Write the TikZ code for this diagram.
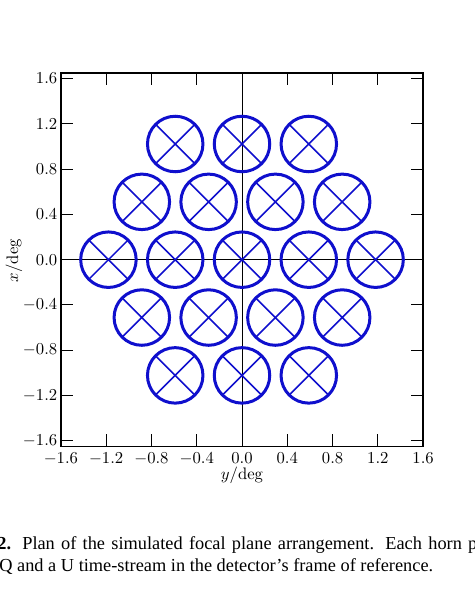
\documentclass[tikz,border=0pt]{standalone}
\usepackage{fontspec}
\usepackage{tikz}
\newfontfamily\capfont{Liberation Serif}
\definecolor{horncol}{RGB}{15,15,205}
\tikzset{
  horn/.style={circle, draw=horncol, line width=1.8pt, minimum size=33.3pt,
    inner sep=0pt, outer sep=0pt},
  hornx/.style={draw=horncol, line width=0.95pt},
  tickmark/.style={line width=0.6pt},
  ticklab/.style={inner sep=0pt, font=\fontsize{10}{12}\selectfont},
}

\begin{document}
\begin{tikzpicture}[x=0.6pt,y=0.6pt]
  \clip (0,0) rectangle (474,594);
  \useasboundingbox (0,0) rectangle (474,594);
  % focal plane, in degrees
  \begin{scope}[shift={(242,334.3)}, x=67.92pt, y=67.92pt]
    \draw[line width=0.5pt] (0,-1.65) -- (0,1.65);
    \draw[line width=0.5pt] (-1.6,0) -- (1.6,0);
    \foreach \v [count=\i] in {-1.6,-1.2,-0.8,-0.4,0.0,0.4,0.8,1.2,1.6} {
      \draw[tickmark] (\v,-1.65) -- ++(0,7.2pt);
      \draw[tickmark] (\v,1.65) -- ++(0,-7.2pt);
      \draw[tickmark] (-1.6,\v) -- ++(7.2pt,0);
      \draw[tickmark] (1.6,\v) -- ++(-7.2pt,0);
      \node[ticklab, below=3.8pt] (xt\i) at (\v,-1.65) {$\v$};
      \node[ticklab, left=2pt] (yt\i) at (-1.6,\v) {$\v$};
    }
    \draw[line width=1pt] (-1.6,-1.65) rectangle (1.6,1.65);
    % the 19 horns
    \foreach \hx/\hy [count=\k] in {-0.59/1.022, 0/1.022, 0.59/1.022,
        -0.885/0.511, -0.295/0.511, 0.295/0.511, 0.885/0.511,
        -1.18/0, -0.59/0, 0/0, 0.59/0, 1.18/0,
        -0.885/-0.511, -0.295/-0.511, 0.295/-0.511, 0.885/-0.511,
        -0.59/-1.022, 0/-1.022, 0.59/-1.022} {
      \node[horn] (h\k) at (\hx,\hy) {};
      \draw[hornx] (h\k.45) -- (h\k.225) (h\k.135) -- (h\k.315);
    }
  \end{scope}
  \node[anchor=base, inner sep=0pt] (xlab) at (242,114) {$y/\mathrm{deg}$};
  \node[anchor=base, inner sep=0pt, rotate=90] (ylab) at (18,333.4) {$x/\mathrm{deg}$};
  % caption
  \node[anchor=base west, inner sep=0pt] (cap1) at (-3,44)
    {\capfont\fontsize{11}{13}\selectfont\makebox[288pt][s]{\textbf{2.} Plan of the simulated focal plane arrangement. Each horn p}};
  \node[anchor=base west, inner sep=0pt] (cap2) at (-1,22.5)
    {\capfont\fontsize{11}{13}\selectfont Q and a U time-stream in the detector’s frame of reference.};
\end{tikzpicture}
\end{document}
